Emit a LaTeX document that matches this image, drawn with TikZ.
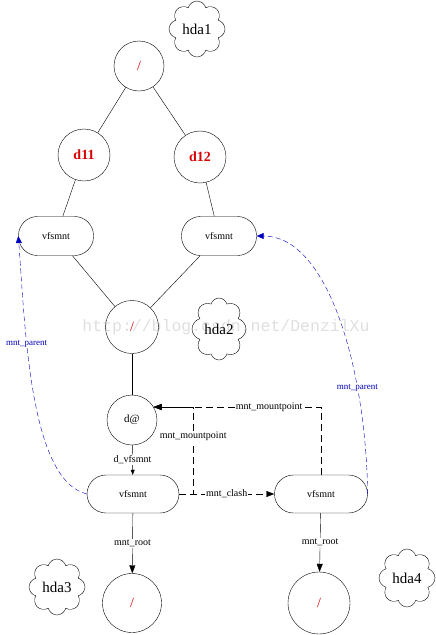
\documentclass[tikz,border=0pt]{standalone}
\usepackage{fontspec}
\setmainfont{Liberation Serif}
\newfontfamily\wmfont{Liberation Mono}
\usetikzlibrary{calc,positioning,arrows.meta,shapes,shapes.symbols}

\begin{document}
\begin{tikzpicture}[x=1pt,y=-1pt,
  dentry/.style={
    draw,
    circle,
    minimum size=50pt,
    inner sep=0pt,
    text=red!85!black,
    font=\fontsize{14}{14}\selectfont},
  mount/.style={draw, rectangle, rounded corners=19pt, minimum width=75pt, minimum height=39pt, font=\fontsize{10}{10}\selectfont},
  disk/.style={draw, cloud, cloud puffs=8, minimum width=56pt, minimum height=56pt, inner sep=0pt, font=\fontsize{15}{15}\selectfont},
  lbl/.style={fill=white, inner sep=1pt, font=\fontsize{10}{10}\selectfont},
  plbl/.style={lbl, text=blue!75!black, font=\fontsize{9}{9}\selectfont},
  ptr/.style={-{Triangle[length=8pt,width=6pt]}},
  parent/.style={draw=blue!75!black, dash pattern=on 5pt off 3pt, -{Triangle[length=7pt,width=6pt]}},
  ]

  \useasboundingbox (0,0) rectangle (436,635);

  \node (watermark) [text=gray!25, font=\wmfont\fontsize{16.5}{16.5}\selectfont] at (226,327) {http://blog.csdn.net/DenzilXu};

  % first tree
  \node (hda1) [disk] at (197,29) {hda1};
  \node (root) [dentry] at (139,66) {/};
  \node (d11) [dentry, minimum size=52pt, font=\fontsize{14}{14}\selectfont\bfseries] at ($(root)+(-55,89)$) {d11};
  \node (d12) [dentry, minimum size=52pt, font=\fontsize{14}{14}\selectfont\bfseries] at ($(root)+(61,91)$) {d12};

  \node (vfsL) [mount] at (56,236) {vfsmnt};
  \node (vfsR) [mount] at (219,236) {vfsmnt};

  % second tree
  \node (mid) [dentry, minimum size=53pt] at (132,327) {/};
  \node (hda2) [disk, minimum width=54pt, minimum height=62pt] at (219,329) {hda2};
  \node (dat) [dentry, text=black, font=\fontsize{11}{11}\selectfont] at ($(mid)+(0,93)$) {d@};

  \node (mntA) [mount, minimum width=92pt, minimum height=38pt] at (133,494) {vfsmnt};
  \node (mntB) [mount, minimum width=93pt, minimum height=38pt] at (321,494) {vfsmnt};

  \node (rootA) [dentry, minimum size=59pt] at (132,603) {/};
  \node (rootB) [dentry, minimum size=62pt] at (319,603) {/};
  \node (hda3) [disk] at (57,587) {hda3};
  \node (hda4) [disk, minimum height=58pt] at (407,578) {hda4};

  \draw (root) -- (d11);
  \draw (root) -- (d12);
  \draw (d11) -- (vfsL);
  \draw (d12) -- (vfsR);
  \draw (vfsL) -- (mid);
  \draw (vfsR) -- (mid);
  \draw (mid) -- (dat);

  \draw [-{Triangle[length=5pt,width=4pt]}] (dat) -- node[lbl] {d\_vfsmnt} (mntA);
  \draw [ptr] (mntA) -- node[lbl] {mnt\_root} (rootA);
  \draw [ptr] (mntB) -- node[lbl] {mnt\_root} (rootB);
  \draw [ptr, dash pattern=on 7pt off 4pt] (mntA) -- node[lbl] {mnt\_clash} (mntB);

  \draw [ptr, dash pattern=on 7pt off 4pt] (mntA.east) -- ++(14,0) |- node[lbl, pos=0.33] {mnt\_mountpoint} (dat.31);
  \draw [ptr, dash pattern=on 7pt off 4pt] (mntB.north) |- node[lbl, pos=0.655] {mnt\_mountpoint} (dat.31);

  \draw [parent] (mntA.west) .. controls +(-57,-14) and +(7,94) .. node[plbl, pos=0.66] {mnt\_parent} (vfsL.west);
  \draw [parent] (mntB.east) .. controls +(-2,-130) and +(70,0) .. node[plbl, pos=0.28] {mnt\_parent} (vfsR.east);

\end{tikzpicture}
\end{document}
